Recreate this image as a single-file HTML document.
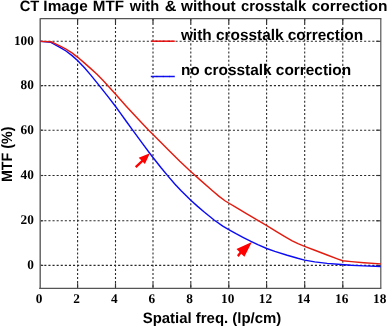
<!DOCTYPE html>
<html><head><meta charset="utf-8"><title>CT Image MTF</title>
<style>
html,body{margin:0;padding:0;background:#fff;}
svg{display:block;text-rendering:geometricPrecision;}
.sans{font-family:"Liberation Sans",Arial,sans-serif;}
.serif{font-family:"Liberation Serif","Times New Roman",serif;font-weight:bold;font-size:13.3px;fill:#000;}
</style></head><body>
<svg width="387" height="327" viewBox="0 0 387 327">
<rect width="387" height="327" fill="#fff"/>
<g stroke="#2a2a2a" stroke-width="1.08" stroke-dasharray="2.1 2.0" fill="none"><line x1="77.6" y1="18.7" x2="77.6" y2="288.3"/><line x1="115.5" y1="18.7" x2="115.5" y2="288.3"/><line x1="153.0" y1="18.7" x2="153.0" y2="288.3"/><line x1="190.8" y1="18.7" x2="190.8" y2="288.3"/><line x1="228.8" y1="18.7" x2="228.8" y2="288.3"/><line x1="266.6" y1="18.7" x2="266.6" y2="288.3"/><line x1="304.7" y1="18.7" x2="304.7" y2="288.3"/><line x1="342.8" y1="18.7" x2="342.8" y2="288.3"/><line x1="40.2" y1="265.4" x2="380.8" y2="265.4"/><line x1="40.2" y1="220.8" x2="380.8" y2="220.8"/><line x1="40.2" y1="175.5" x2="380.8" y2="175.5"/><line x1="40.2" y1="130.2" x2="380.8" y2="130.2"/><line x1="40.2" y1="85.6" x2="380.8" y2="85.6"/><line x1="40.2" y1="41.3" x2="380.8" y2="41.3"/></g>
<g stroke="#333" stroke-width="1.15" fill="none"><line x1="77.6" y1="18.7" x2="77.6" y2="23.2"/><line x1="77.6" y1="288.3" x2="77.6" y2="283.3"/><line x1="115.5" y1="18.7" x2="115.5" y2="23.2"/><line x1="115.5" y1="288.3" x2="115.5" y2="283.3"/><line x1="153.0" y1="18.7" x2="153.0" y2="23.2"/><line x1="153.0" y1="288.3" x2="153.0" y2="283.3"/><line x1="190.8" y1="18.7" x2="190.8" y2="23.2"/><line x1="190.8" y1="288.3" x2="190.8" y2="283.3"/><line x1="228.8" y1="18.7" x2="228.8" y2="23.2"/><line x1="228.8" y1="288.3" x2="228.8" y2="283.3"/><line x1="266.6" y1="18.7" x2="266.6" y2="23.2"/><line x1="266.6" y1="288.3" x2="266.6" y2="283.3"/><line x1="304.7" y1="18.7" x2="304.7" y2="23.2"/><line x1="304.7" y1="288.3" x2="304.7" y2="283.3"/><line x1="342.8" y1="18.7" x2="342.8" y2="23.2"/><line x1="342.8" y1="288.3" x2="342.8" y2="283.3"/><line x1="40.2" y1="265.4" x2="43.2" y2="265.4"/><line x1="380.8" y1="265.4" x2="376.3" y2="265.4"/><line x1="40.2" y1="220.8" x2="43.2" y2="220.8"/><line x1="380.8" y1="220.8" x2="376.3" y2="220.8"/><line x1="40.2" y1="175.5" x2="43.2" y2="175.5"/><line x1="380.8" y1="175.5" x2="376.3" y2="175.5"/><line x1="40.2" y1="130.2" x2="43.2" y2="130.2"/><line x1="380.8" y1="130.2" x2="376.3" y2="130.2"/><line x1="40.2" y1="85.6" x2="43.2" y2="85.6"/><line x1="380.8" y1="85.6" x2="376.3" y2="85.6"/><line x1="40.2" y1="41.3" x2="43.2" y2="41.3"/><line x1="380.8" y1="41.3" x2="376.3" y2="41.3"/></g>
<g fill="none" stroke-linecap="butt">
<line x1="40.2" y1="18.2" x2="40.2" y2="289.1" stroke="#666" stroke-width="1.5"/>
<line x1="39.2" y1="288.3" x2="381.40000000000003" y2="288.3" stroke="#555" stroke-width="1.2"/>
<line x1="40.2" y1="18.7" x2="381.40000000000003" y2="18.7" stroke="#555" stroke-width="1.2"/>
<line x1="380.8" y1="18.7" x2="380.8" y2="288.3" stroke="#555" stroke-width="1.2"/>
</g>
<polyline points="40.3,41.4 50.9,42.4 60.8,47.8 66.0,51.0 72.1,55.6 77.8,60.8 84.5,67.8 90.8,75.1 98.5,84.6 108.6,97.4 115.4,106.3 120.2,112.9 126.4,121.5 132.3,129.7 142.4,143.4 149.9,153.5 153.0,157.5 161.1,167.8 167.4,175.4 175.0,184.2 181.4,191.0 190.8,200.3 197.6,206.4 204.5,212.3 214.1,220.0 222.8,226.1 229.6,230.1 236.0,233.7 243.4,237.6 251.0,241.4 257.8,244.6 266.7,248.5 274.8,251.4 287.2,255.3 297.7,258.3 304.6,260.1 314.8,261.9 327.2,263.4 338.0,264.3 351.4,265.3 363.8,265.9 380.8,266.5" fill="none" stroke="#0c0cf4" stroke-width="1.45" stroke-linejoin="round"/>
<polyline points="40.3,41.4 50.9,41.7 60.8,46.3 66.0,49.1 72.0,52.9 77.8,57.3 84.3,62.9 90.8,68.6 97.0,74.3 102.4,79.8 108.6,86.5 115.4,94.1 126.0,105.9 138.8,119.8 148.7,130.2 153.0,134.5 161.0,142.5 169.7,151.2 179.8,161.2 191.0,171.8 199.8,179.6 212.2,190.5 219.1,196.4 225.3,201.0 228.6,203.0 235.2,206.9 246.0,213.3 258.3,220.7 266.8,225.7 275.7,231.1 284.0,236.1 292.2,240.8 298.0,243.7 304.6,246.4 314.8,250.3 327.2,255.0 338.0,259.1 342.7,260.8 351.4,261.6 363.8,262.7 380.8,263.9" fill="none" stroke="#e21c10" stroke-width="1.45" stroke-linejoin="round"/>
<line x1="150.8" y1="41.2" x2="174.8" y2="41.2" stroke="#f01010" stroke-width="1.5"/>
<line x1="150.8" y1="76.5" x2="174.8" y2="76.5" stroke="#1010f0" stroke-width="1.5"/>
<g fill="#000" fill-opacity="0.3" stroke="none"><rect x="156.4" y="40.4" width="1" height="1.6"/><rect x="162.6" y="40.4" width="1" height="1.6"/><rect x="168.8" y="40.4" width="1" height="1.6"/><rect x="156.4" y="75.7" width="1" height="1.6"/><rect x="162.8" y="75.7" width="1" height="1.6"/><rect x="169" y="75.7" width="1" height="1.6"/></g>
<g fill="#f00" stroke="none">
<polygon points="149.9,153.2 138.7,157.7 141.3,160.3 134.9,166.3 136.5,167.9 142.9,161.9 144.9,164.0"/>
<polygon points="251.9,241.9 236.5,248.9 239.5,252.0 237.0,255.2 238.7,256.9 241.2,253.7 244.4,256.8"/>
</g>
<g class="serif"><text x="33.9" y="268.7" text-anchor="end" style="font-size:13.3px">0</text><text x="33.9" y="224.1" text-anchor="end" style="font-size:13.3px">20</text><text x="33.9" y="178.8" text-anchor="end" style="font-size:13.3px">40</text><text x="33.9" y="133.5" text-anchor="end" style="font-size:13.3px">60</text><text x="33.9" y="88.9" text-anchor="end" style="font-size:13.3px">80</text><text x="33.9" y="44.6" text-anchor="end" style="font-size:13.3px">100</text><text x="39.0" y="302.9" text-anchor="middle">0</text><text x="76.5" y="302.9" text-anchor="middle">2</text><text x="114.4" y="302.9" text-anchor="middle">4</text><text x="151.9" y="302.9" text-anchor="middle">6</text><text x="189.7" y="302.9" text-anchor="middle">8</text><text x="227.7" y="302.9" text-anchor="middle">10</text><text x="265.5" y="302.9" text-anchor="middle">12</text><text x="303.6" y="302.9" text-anchor="middle">14</text><text x="341.7" y="302.9" text-anchor="middle">16</text><text x="379.7" y="302.9" text-anchor="middle">18</text></g>
<text class="sans" x="19.71" y="11.3" font-size="15" font-weight="bold" textLength="19.60" lengthAdjust="spacingAndGlyphs">CT</text><text class="sans" x="43.38" y="11.3" font-size="15" font-weight="bold" textLength="44.32" lengthAdjust="spacingAndGlyphs">Image</text><text class="sans" x="92.79" y="11.3" font-size="15" font-weight="bold" textLength="31.18" lengthAdjust="spacingAndGlyphs">MTF</text><text class="sans" x="129.85" y="11.3" font-size="15" font-weight="bold" textLength="29.24" lengthAdjust="spacingAndGlyphs">with</text><text class="sans" x="164.65" y="11.3" font-size="15" font-weight="bold" textLength="11.71" lengthAdjust="spacingAndGlyphs">&amp;</text><text class="sans" x="181.05" y="11.3" font-size="15" font-weight="bold" textLength="54.59" lengthAdjust="spacingAndGlyphs">without</text><text class="sans" x="241.06" y="11.3" font-size="15" font-weight="bold" textLength="65.09" lengthAdjust="spacingAndGlyphs">crosstalk</text><text class="sans" x="311.74" y="11.3" font-size="15" font-weight="bold" textLength="75.71" lengthAdjust="spacingAndGlyphs">correction</text>
<text class="sans" x="180.9" y="39.6" font-size="15.4" font-weight="bold">with crosstalk correction</text>
<text class="sans" x="180.9" y="74.6" font-size="15.4" font-weight="bold">no crosstalk correction</text>
<text class="sans" x="142.7" y="323.2" font-size="14.95" font-weight="bold">Spatial freq. (lp/cm)</text>
<text class="sans" transform="translate(11.8,182.0) rotate(-90)" font-size="15" font-weight="bold" textLength="55.4" lengthAdjust="spacingAndGlyphs">MTF (%)</text>
</svg>
</body></html>
